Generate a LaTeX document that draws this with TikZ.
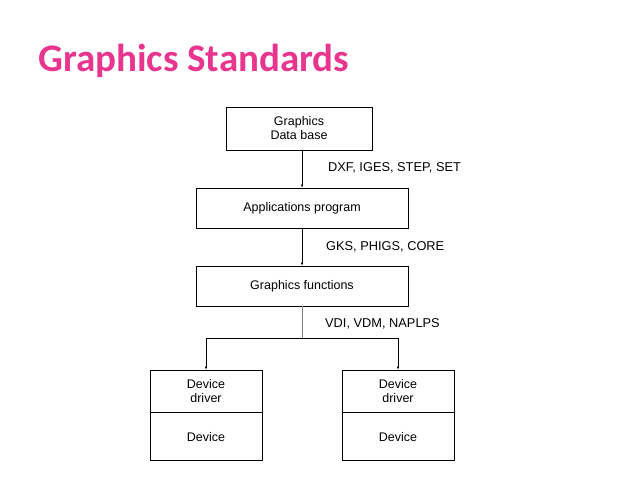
\documentclass[tikz,border=0pt]{standalone}
\usepackage{fontspec}
\setmainfont{Liberation Sans}
\newfontfamily\titlefont{Carlito}
\usetikzlibrary{arrows.meta}
\definecolor{ttl}{HTML}{E8368F}
\begin{document}
\begin{tikzpicture}[x=1pt,y=-1pt,
  box/.style={draw,line width=0.7pt,minimum height=#1,inner sep=0pt,font=\fontsize{12.5}{14}\selectfont,align=center},
  lbl/.style={anchor=west,font=\fontsize{12.8}{14}\selectfont,inner sep=0pt},
  arr/.style={line width=0.7pt,-{Latex[length=3pt,width=2.5pt]}}]
\useasboundingbox[fill=white] (0,0) rectangle (638,479);
\node[anchor=west,font=\titlefont\bfseries\fontsize{39}{44}\selectfont,text=ttl,inner sep=0pt] (title) at (38,61) {Graphics Standards};
\node[box=43pt,minimum width=146pt] (db) at (299,128.5) {Graphics\\Data base};
\node[box=40pt,minimum width=212pt] (app) at (302,208) {Applications program};
\node[box=40pt,minimum width=212pt] (gf) at (302,286) {Graphics functions};
\node[box=42pt,minimum width=112pt] (dd1) at (206,391) {Device\\driver};
\node[box=48pt,minimum width=112pt,anchor=north] (d1) at (dd1.south) {Device};
\node[box=42pt,minimum width=112pt] (dd2) at (398,391) {Device\\driver};
\node[box=48pt,minimum width=112pt,anchor=north] (d2) at (dd2.south) {Device};
\draw[arr] (db.south -| app.north) -- (app.north);
\draw[arr] (app.south) -- (gf.north);
\coordinate (j) at (302,338);
\draw[gray,line width=0.7pt] (gf.south) -- (j);
\draw[line width=0.7pt] (dd1.north |- j) -- (dd2.north |- j);
\draw[arr] (dd1.north |- j) -- (dd1.north);
\draw[arr] (dd2.north |- j) -- (dd2.north);
\node[lbl] (l1) at (328,168) {DXF, IGES, STEP, SET};
\node[lbl] (l2) at (326,247) {GKS, PHIGS, CORE};
\node[lbl] (l3) at (325,324) {VDI, VDM, NAPLPS};
\end{tikzpicture}
\end{document}
